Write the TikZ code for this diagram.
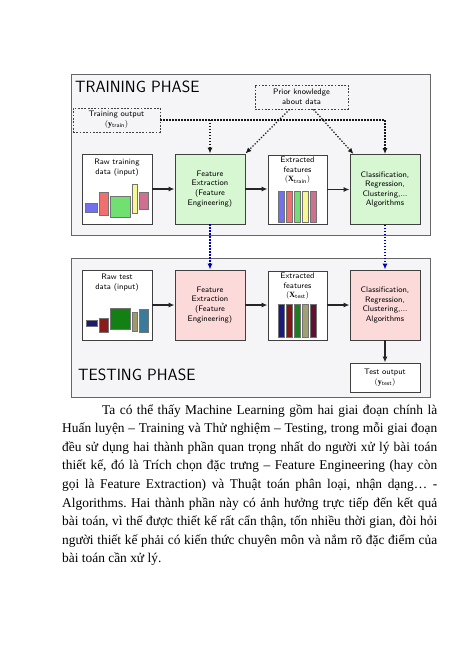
\documentclass[tikz,border=0pt]{standalone}
\usepackage{fontspec}
\setmainfont{Liberation Serif}
\usetikzlibrary{arrows.meta}
\definecolor{fegreen}{HTML}{D6F7D2}
\definecolor{fepink}{HTML}{FCDADA}
\definecolor{outerfill}{HTML}{F5F5F7}
\newcommand\jline[1]{\hbox to 375pt{#1}}
\begin{document}
\begin{tikzpicture}[x=1pt,y=-1pt,
  outerbox/.style={draw=black!60, fill=outerfill, line width=1pt},
  blk/.style={draw=black!75, fill=white, line width=0.9pt, inner sep=0, minimum width=70pt, minimum height=70pt,
     font=\sffamily\fontsize{8}{9.6}\selectfont, align=center},
  greenbox/.style={blk, fill=fegreen},
  pinkbox/.style={blk, fill=fepink},
  lbl/.style={inner sep=0, font=\sffamily\fontsize{8}{9.6}\selectfont, align=center},
  dbox/.style={draw=black!75, line width=0.8pt, dash pattern=on 1.8pt off 1.5pt, inner sep=0,
     font=\sffamily\fontsize{8}{9.6}\selectfont, align=center},
  arr/.style={-{Latex[length=6pt,width=5pt]}, line width=1.3pt, draw=black!85},
  darr/.style={-{Latex[length=6pt,width=5pt]}, line width=1.2pt, dash pattern=on 1.3pt off 1.7pt, draw=black!90},
  barr/.style={darr, draw=blue!75!black, -{Latex[length=6pt,width=5pt,fill=blue!75!black]}},
  bar/.style={draw=black!55, line width=0.4pt},
  title/.style={inner sep=0, anchor=base west, font=\sffamily\fontsize{16.3}{16.3}\selectfont}
]
\useasboundingbox (0,0) rectangle (474,672);
\fill[white] (0,0) rectangle (474,672);

% outer phase boxes
\node[outerbox, minimum width=359pt, minimum height=161pt, inner sep=0] (trainphase) at (250.5,154.5) {};
\node[outerbox, minimum width=359pt, minimum height=139pt, inner sep=0] (testphase) at (250.5,327.5) {};
\node[title] (traintitle) at (75,92) {TRAINING PHASE};
\node[title] (testtitle) at (78,380) {TESTING PHASE};

% training row
\node[dbox, minimum width=87pt, minimum height=24pt] (trout) at (116.5,120) {Training output\\$(\mathbf{y}_{\mathsf{train}})$};
\node[dbox, minimum width=93pt, minimum height=24pt] (prior) at (301.5,97) {Prior knowledge\\about data};
\node[blk] (rawtr) at (117,189) {};
\node[lbl, anchor=north] (rawtrT) at (117,159) {Raw training\\data (input)};
\node[greenbox] (fetr) at (210,189) {Feature\\Extraction\\(Feature\\Engineering)};
\node[blk, minimum width=59pt, minimum height=69pt] (xtr) at (297.5,189.5) {};
\node[lbl, anchor=north] (xtrT) at (297.5,157) {Extracted\\features\\$(\mathbf{X}_{\mathsf{train}})$};
\node[greenbox] (cltr) at (385,189.5) {Classification,\\Regression,\\Clustering,...\\Algorithms};

% training raw bars
\filldraw[bar, fill={rgb,255:red,112;green,112;blue,240}] (85,203) rectangle (97,212);
\filldraw[bar, fill={rgb,255:red,240;green,112;blue,112}] (99,192) rectangle (108,215);
\filldraw[bar, fill={rgb,255:red,112;green,224;blue,112}] (110,196) rectangle (130,217);
\filldraw[bar, fill={rgb,255:red,248;green,248;blue,144}] (132,184) rectangle (137,213);
\filldraw[bar, fill={rgb,255:red,208;green,112;blue,144}] (139,192) rectangle (148,209);
% training feature bars
\filldraw[bar, fill={rgb,255:red,112;green,112;blue,240}] (278,191) rectangle (284.5,222);
\filldraw[bar, fill={rgb,255:red,240;green,112;blue,112}] (286,191) rectangle (292.5,222);
\filldraw[bar, fill={rgb,255:red,112;green,224;blue,112}] (294,191) rectangle (300.5,222);
\filldraw[bar, fill={rgb,255:red,248;green,248;blue,144}] (302,191) rectangle (308.5,222);
\filldraw[bar, fill={rgb,255:red,208;green,112;blue,144}] (310,191) rectangle (316.5,222);

% testing row
\node[blk] (rawte) at (117,305) {};
\node[lbl, anchor=north] (rawteT) at (117,274) {Raw test\\data (input)};
\node[pinkbox] (fete) at (210,305) {Feature\\Extraction\\(Feature\\Engineering)};
\node[blk, minimum width=59pt, minimum height=69pt] (xte) at (297.5,305.5) {};
\node[lbl, anchor=north] (xteT) at (297.5,273) {Extracted\\features\\$(\mathbf{X}_{\mathsf{test}})$};
\node[pinkbox] (clte) at (385,305) {Classification,\\Regression,\\Clustering,...\\Algorithms};
\node[blk, minimum width=70pt, minimum height=29pt] (testout) at (385,377.5) {Test output\\$(\mathbf{y}_{\mathsf{test}})$};

% testing raw bars
\filldraw[bar, fill={rgb,255:red,26;green,26;blue,122}] (86,320) rectangle (97,326);
\filldraw[bar, fill={rgb,255:red,139;green,26;blue,26}] (99,318) rectangle (108,332);
\filldraw[bar, fill={rgb,255:red,19;green,128;blue,19}] (110,308) rectangle (130,329);
\filldraw[bar, fill={rgb,255:red,160;green,154;blue,106}] (132,312) rectangle (137,331);
\filldraw[bar, fill={rgb,255:red,58;green,122;blue,154}] (139,309) rectangle (148,332);
% testing feature bars
\filldraw[bar, fill={rgb,255:red,26;green,26;blue,128}] (278,304) rectangle (284.5,337);
\filldraw[bar, fill={rgb,255:red,128;green,21;blue,21}] (286,304) rectangle (292.5,337);
\filldraw[bar, fill={rgb,255:red,26;green,128;blue,26}] (294,304) rectangle (300.5,337);
\filldraw[bar, fill={rgb,255:red,160;green,160;blue,112}] (302,304) rectangle (308.5,337);
\filldraw[bar, fill={rgb,255:red,96;green,16;blue,48}] (310,304) rectangle (316.5,337);

% connectors training
\draw[arr] (rawtr) -- (fetr);
\draw[arr] (fetr.east) -- (fetr.east -| xtr.west);
\draw[arr] (xtr.east |- cltr.west) -- (cltr.west);
\coordinate (j1) at (210,120);
\coordinate (j2) at (385,120);
\draw[darr] (trout.east) -- (j2) -- (cltr.north);
\draw[darr] (j1) -- (fetr.north);
\draw[darr] ([xshift=-12pt]prior.south) -- (fetr.north east);
\draw[darr] ([xshift=12pt]prior.south) -- ([xshift=4pt]cltr.north west);
\draw[barr] (fetr.south) -- (fete.north);
\draw[barr] (cltr.south) -- (clte.north);

% connectors testing
\draw[arr] (rawte) -- (fete);
\draw[arr] (fete.east) -- (fete.east -| xte.west);
\draw[arr] (xte.east |- clte.west) -- (clte.west);
\draw[arr] (clte.south) -- (testout.north);

% paragraph
\node[anchor=base west, inner sep=0] (para) at (62,414) {\vtop{\fontsize{13.4}{18.6}\selectfont\frenchspacing
\hsize=375pt \baselineskip=18.6pt
\spaceskip=0.25em plus 0.6em minus 0.12em
\jline{\hspace*{40pt}Ta có thể thấy Machine Learning gồm hai giai đoạn chính là}
\jline{Huấn luyện – Training và Thử nghiệm – Testing, trong mỗi giai đoạn}
\jline{đều sử dụng hai thành phần quan trọng nhất do người xử lý bài toán}
\jline{thiết kế, đó là Trích chọn đặc trưng – Feature Engineering (hay còn}
\jline{gọi là Feature Extraction) và Thuật toán phân loại, nhận dạng… -}
\jline{Algorithms. Hai thành phần này có ảnh hưởng trực tiếp đến kết quả}
\jline{bài toán, vì thế được thiết kế rất cẩn thận, tốn nhiều thời gian, đòi hỏi}
\jline{người thiết kế phải có kiến thức chuyên môn và nắm rõ đặc điểm của}
\hbox{bài toán cần xử lý.}}};
\end{tikzpicture}
\end{document}
